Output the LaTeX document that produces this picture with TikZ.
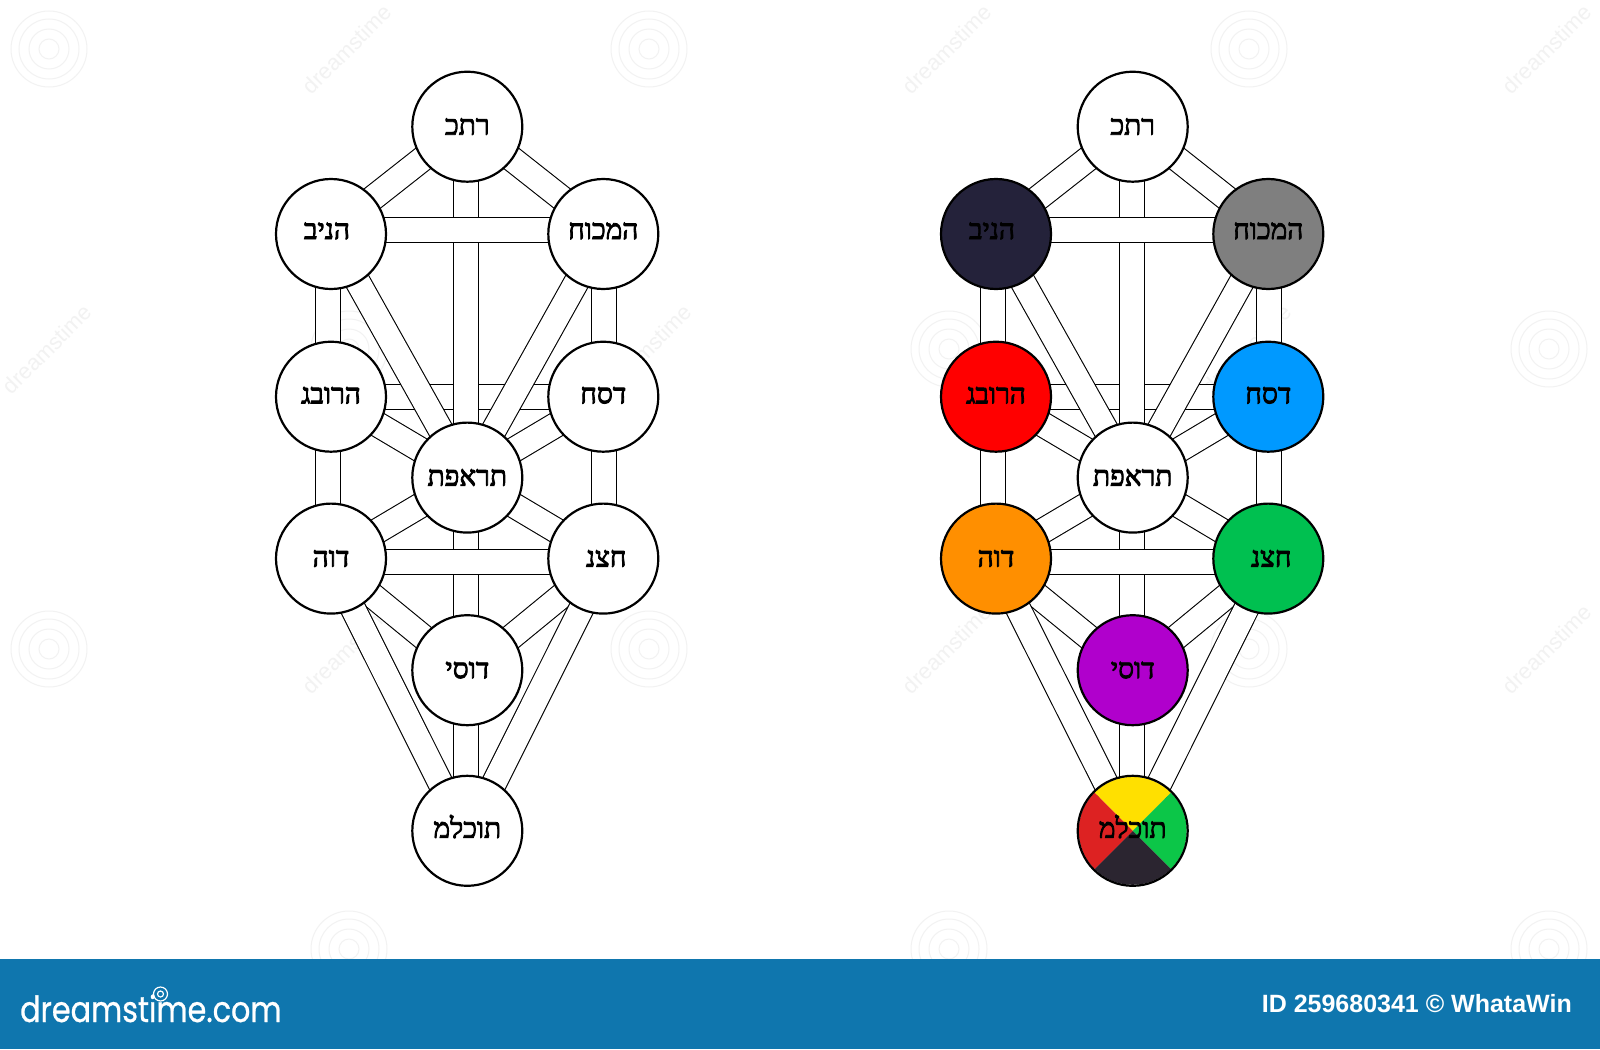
\documentclass[tikz,border=0pt]{standalone}
\usepackage{fontspec}
\setmainfont{Liberation Sans}
\newfontfamily\hebfont[Script=Hebrew,FakeBold=3]{Liberation Serif}
\newfontfamily\logofont[FakeBold=0.8]{Poppins}
\TeXXeTstate=1
\pgfdeclarelayer{wm}
\pgfdeclarelayer{chan}
\pgfsetlayers{wm,chan,main}
\definecolor{banner}{HTML}{0F76AE}
\definecolor{cbin}{HTML}{24223A}
\definecolor{cchk}{HTML}{7F7F7F}
\definecolor{cgev}{HTML}{FF0000}
\definecolor{cche}{HTML}{0099FF}
\definecolor{chod}{HTML}{FF8F00}
\definecolor{cnet}{HTML}{00C050}
\definecolor{cyes}{HTML}{B000CC}
\definecolor{myel}{HTML}{FFE000}
\definecolor{mgrn}{HTML}{0CC648}
\definecolor{mdrk}{HTML}{2B2530}
\definecolor{mred}{HTML}{DD2222}
\definecolor{wmgray}{HTML}{F2F2F2}
\tikzset{
  sefira/.style={circle,draw=black,fill=white,line width=2.2pt,minimum size=110pt,inner sep=0pt,
    font=\hebfont\fontsize{28}{28}\selectfont},
  chan/.style={draw=black,line width=1.1pt,double=white,double distance=24pt},
  wmring/.style={draw=wmgray,line width=1pt},
  wmtext/.style={text=wmgray,font=\fontsize{22}{22}\selectfont,rotate=45}
}
% #1 twice the sideways offset, #2 baseline raise from the circle's centre, #3 word
\newcommand{\heb}[3]{\makebox[0pt][c]{\hspace*{#1pt}\raisebox{#2pt}[0pt][0pt]{\beginR #3\endR}}}
% draws the channels of one tree, whose nodes carry the prefix #1
\newcommand{\channels}[1]{%
  \begin{pgfonlayer}{chan}
    \draw[chan] (#1ger.center) -- (#1che.center);
    \draw[chan] ([xshift=-1pt]#1ket.center) -- ([xshift=-1pt]#1tif.center);
    \draw[chan] ([xshift=-1pt]#1tif.center) -- ([xshift=-1pt]#1yes.center);
    \draw[chan] ([xshift=-1pt]#1yes.center) -- ([xshift=-1pt]#1mal.center);
    \draw[chan] ([yshift=3pt]#1ket.center) -- ([yshift=3pt]#1bin.center);
    \draw[chan] ([yshift=3pt]#1ket.center) -- ([yshift=3pt]#1chk.center);
    \draw[chan] ([xshift=-3pt]#1bin.center) -- ([xshift=-3pt]#1ger.center);
    \draw[chan] ([xshift=-3pt]#1ger.center) -- ([xshift=-3pt]#1hod.center);
    \draw[chan] ([xshift=1pt]#1chk.center) -- ([xshift=1pt]#1che.center);
    \draw[chan] ([xshift=1pt]#1che.center) -- ([xshift=1pt]#1net.center);
    \draw[chan] (#1ger.center) -- (#1tif.center);
    \draw[chan] (#1che.center) -- (#1tif.center);
    \draw[chan] (#1hod.center) -- (#1tif.center);
    \draw[chan] (#1net.center) -- (#1tif.center);
    \draw[chan] (#1bin.center) -- (#1tif.center);
    \draw[chan] (#1chk.center) -- (#1tif.center);
    \draw[chan] ([yshift=-3pt]#1hod.center) -- ([yshift=-3pt]#1yes.center);
    \draw[chan] ([yshift=-3pt]#1net.center) -- ([yshift=-3pt]#1yes.center);
    \draw[chan] ([xshift=-3pt]#1hod.center) -- ([xshift=-3pt]#1mal.center);
    \draw[chan] ([xshift=3pt]#1net.center) -- ([xshift=3pt]#1mal.center);
    \draw[chan] ([yshift=4pt]#1bin.center) -- ([yshift=4pt]#1chk.center);
    \draw[chan] ([yshift=-3pt]#1hod.center) -- ([yshift=-3pt]#1net.center);
  \end{pgfonlayer}%
}
\begin{document}
\begin{tikzpicture}[x=1pt,y=-1pt]
\useasboundingbox (0,0) rectangle (1600,1049);

% watermark
\begin{pgfonlayer}{wm}
\fill[white] (0,0) rectangle (1600,1049);
\foreach \wx/\wy in {49/49,649/49,1249/49,49/649,649/649,1249/649,349/349,949/349,1549/349,349/949,949/949,1549/949}{
  \foreach \wr in {10,20,30,38}{\draw[wmring] (\wx,\wy) circle (\wr);}
}
\foreach \wx/\wy [count=\wi] in {347/649,947/649,1547/649,347/49,947/49,1547/49,47/349,647/349,1247/349}{
  \node[wmtext] (wm\wi) at (\wx,\wy) {dreamstime};
}
\end{pgfonlayer}

% left tree
\node[sefira] (lket) at (467.3,126.7) {\heb{0}{-8}{רתכ}};
\node[sefira] (lbin) at (331,234) {\heb{-8}{-5}{הניב}};
\node[sefira] (lchk) at (603.3,234) {\heb{0}{-5}{המכוח}};
\node[sefira] (lger) at (331,396.7) {\heb{0}{-6.7}{הרובג}};
\node[sefira] (lche) at (603.3,396.7) {\heb{0}{-6.7}{דסח}};
\node[sefira] (ltif) at (467.3,477.6) {\heb{0}{-8}{תראפת}};
\node[sefira] (lhod) at (331,558.6) {\heb{0}{-8}{דוה}};
\node[sefira] (lnet) at (603.3,558.6) {\heb{6}{-8}{חצנ}};
\node[sefira] (lyes) at (467.3,670.2) {\heb{0}{-8}{דוסי}};
\node[sefira] (lmal) at (467.3,830.8) {\heb{0}{-7}{תוכלמ}};
\channels{l}

% right tree
\node[sefira] (rket) at (1132.7,126.7) {\heb{0}{-8}{רתכ}};
\node[sefira,fill=cbin] (rbin) at (996,234) {\heb{-8}{-5}{הניב}};
\node[sefira,fill=cchk] (rchk) at (1268.3,234) {\heb{0}{-5}{המכוח}};
\node[sefira,fill=cgev] (rger) at (996,396.7) {\heb{0}{-6.7}{הרובג}};
\node[sefira,fill=cche] (rche) at (1268.3,396.7) {\heb{0}{-6.7}{דסח}};
\node[sefira] (rtif) at (1132.7,477.6) {\heb{0}{-8}{תראפת}};
\node[sefira,fill=chod] (rhod) at (996,558.6) {\heb{0}{-8}{דוה}};
\node[sefira,fill=cnet] (rnet) at (1268.3,558.6) {\heb{6}{-8}{חצנ}};
\node[sefira,fill=cyes] (ryes) at (1132.7,670.2) {\heb{0}{-8}{דוסי}};
\coordinate (rmc) at (1132.7,830.8);
\begin{scope}
  \clip (rmc) circle (54);
  \fill[myel] (rmc) -- ++(-60,-60) -- ++(120,0) -- cycle;
  \fill[mgrn] (rmc) -- ++(60,-60) -- ++(0,120) -- cycle;
  \fill[mdrk] (rmc) -- ++(60,60) -- ++(-120,0) -- cycle;
  \fill[mred] (rmc) -- ++(-60,60) -- ++(0,-120) -- cycle;
\end{scope}
\node[sefira,fill=none] (rmal) at (rmc) {\heb{0}{-7}{תוכלמ}};
\channels{r}

% banner
\fill[banner] (0,959) rectangle (1600,1049);
\node[anchor=base west,inner sep=0pt,text=white,xscale=.84,font=\logofont\fontsize{36}{36}\selectfont] (logo) at (20,1022) {dreamstime.com};
\draw[white,line width=1.2pt] (160.5,994) circle (7);
\draw[white,line width=1.2pt] (160.5,994) circle (3);
\node[anchor=base east,inner sep=0pt,text=white,font=\bfseries\fontsize{25}{25}\selectfont] (idtext) at (1572,1012) {ID 259680341 © WhataWin};
\end{tikzpicture}
\end{document}
